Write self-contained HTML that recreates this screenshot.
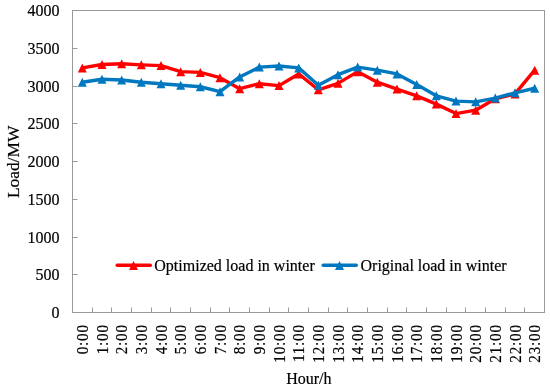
<!DOCTYPE html>
<html><head><meta charset="utf-8"><title>Load chart</title>
<style>html,body{margin:0;padding:0;background:#fff;width:550px;height:390px;overflow:hidden}svg{display:block}</style>
</head><body>
<svg width="550" height="390" viewBox="0 0 550 390" font-family="'Liberation Serif', 'Times New Roman', serif" font-size="16" fill="#000"><style>text{stroke:#000;stroke-width:0.2px}</style><rect x="72.5" y="10.5" width="472.0" height="302.0" fill="none" stroke="#999999" stroke-width="1"/>
<line x1="72.5" y1="274.5" x2="77.5" y2="274.5" stroke="#999999" stroke-width="1"/>
<line x1="72.5" y1="237.5" x2="77.5" y2="237.5" stroke="#999999" stroke-width="1"/>
<line x1="72.5" y1="199.5" x2="77.5" y2="199.5" stroke="#999999" stroke-width="1"/>
<line x1="72.5" y1="161.5" x2="77.5" y2="161.5" stroke="#999999" stroke-width="1"/>
<line x1="72.5" y1="123.5" x2="77.5" y2="123.5" stroke="#999999" stroke-width="1"/>
<line x1="72.5" y1="86.5" x2="77.5" y2="86.5" stroke="#999999" stroke-width="1"/>
<line x1="72.5" y1="48.5" x2="77.5" y2="48.5" stroke="#999999" stroke-width="1"/>
<line x1="92.5" y1="312.5" x2="92.5" y2="307.5" stroke="#999999" stroke-width="1"/>
<line x1="111.5" y1="312.5" x2="111.5" y2="307.5" stroke="#999999" stroke-width="1"/>
<line x1="131.5" y1="312.5" x2="131.5" y2="307.5" stroke="#999999" stroke-width="1"/>
<line x1="151.5" y1="312.5" x2="151.5" y2="307.5" stroke="#999999" stroke-width="1"/>
<line x1="170.5" y1="312.5" x2="170.5" y2="307.5" stroke="#999999" stroke-width="1"/>
<line x1="190.5" y1="312.5" x2="190.5" y2="307.5" stroke="#999999" stroke-width="1"/>
<line x1="210.5" y1="312.5" x2="210.5" y2="307.5" stroke="#999999" stroke-width="1"/>
<line x1="229.5" y1="312.5" x2="229.5" y2="307.5" stroke="#999999" stroke-width="1"/>
<line x1="249.5" y1="312.5" x2="249.5" y2="307.5" stroke="#999999" stroke-width="1"/>
<line x1="269.5" y1="312.5" x2="269.5" y2="307.5" stroke="#999999" stroke-width="1"/>
<line x1="288.5" y1="312.5" x2="288.5" y2="307.5" stroke="#999999" stroke-width="1"/>
<line x1="308.5" y1="312.5" x2="308.5" y2="307.5" stroke="#999999" stroke-width="1"/>
<line x1="328.5" y1="312.5" x2="328.5" y2="307.5" stroke="#999999" stroke-width="1"/>
<line x1="347.5" y1="312.5" x2="347.5" y2="307.5" stroke="#999999" stroke-width="1"/>
<line x1="367.5" y1="312.5" x2="367.5" y2="307.5" stroke="#999999" stroke-width="1"/>
<line x1="387.5" y1="312.5" x2="387.5" y2="307.5" stroke="#999999" stroke-width="1"/>
<line x1="406.5" y1="312.5" x2="406.5" y2="307.5" stroke="#999999" stroke-width="1"/>
<line x1="426.5" y1="312.5" x2="426.5" y2="307.5" stroke="#999999" stroke-width="1"/>
<line x1="446.5" y1="312.5" x2="446.5" y2="307.5" stroke="#999999" stroke-width="1"/>
<line x1="465.5" y1="312.5" x2="465.5" y2="307.5" stroke="#999999" stroke-width="1"/>
<line x1="485.5" y1="312.5" x2="485.5" y2="307.5" stroke="#999999" stroke-width="1"/>
<line x1="505.5" y1="312.5" x2="505.5" y2="307.5" stroke="#999999" stroke-width="1"/>
<line x1="524.5" y1="312.5" x2="524.5" y2="307.5" stroke="#999999" stroke-width="1"/>
<text x="59.5" y="318.00" text-anchor="end">0</text>
<text x="59.5" y="280.25" text-anchor="end">500</text>
<text x="59.5" y="242.50" text-anchor="end">1000</text>
<text x="59.5" y="204.75" text-anchor="end">1500</text>
<text x="59.5" y="167.00" text-anchor="end">2000</text>
<text x="59.5" y="129.25" text-anchor="end">2500</text>
<text x="59.5" y="91.50" text-anchor="end">3000</text>
<text x="59.5" y="53.75" text-anchor="end">3500</text>
<text x="59.5" y="16.00" text-anchor="end">4000</text>
<text transform="translate(87.93,324.2) rotate(-90) scale(0.9,1)" text-anchor="end" font-size="16.8" letter-spacing="0.9">0:00</text>
<text transform="translate(107.60,324.2) rotate(-90) scale(0.9,1)" text-anchor="end" font-size="16.8" letter-spacing="0.9">1:00</text>
<text transform="translate(127.27,324.2) rotate(-90) scale(0.9,1)" text-anchor="end" font-size="16.8" letter-spacing="0.9">2:00</text>
<text transform="translate(146.93,324.2) rotate(-90) scale(0.9,1)" text-anchor="end" font-size="16.8" letter-spacing="0.9">3:00</text>
<text transform="translate(166.60,324.2) rotate(-90) scale(0.9,1)" text-anchor="end" font-size="16.8" letter-spacing="0.9">4:00</text>
<text transform="translate(186.27,324.2) rotate(-90) scale(0.9,1)" text-anchor="end" font-size="16.8" letter-spacing="0.9">5:00</text>
<text transform="translate(205.93,324.2) rotate(-90) scale(0.9,1)" text-anchor="end" font-size="16.8" letter-spacing="0.9">6:00</text>
<text transform="translate(225.60,324.2) rotate(-90) scale(0.9,1)" text-anchor="end" font-size="16.8" letter-spacing="0.9">7:00</text>
<text transform="translate(245.27,324.2) rotate(-90) scale(0.9,1)" text-anchor="end" font-size="16.8" letter-spacing="0.9">8:00</text>
<text transform="translate(264.93,324.2) rotate(-90) scale(0.9,1)" text-anchor="end" font-size="16.8" letter-spacing="0.9">9:00</text>
<text transform="translate(284.60,324.2) rotate(-90) scale(0.9,1)" text-anchor="end" font-size="16.8" letter-spacing="0.9">10:00</text>
<text transform="translate(304.27,324.2) rotate(-90) scale(0.9,1)" text-anchor="end" font-size="16.8" letter-spacing="0.9">11:00</text>
<text transform="translate(323.93,324.2) rotate(-90) scale(0.9,1)" text-anchor="end" font-size="16.8" letter-spacing="0.9">12:00</text>
<text transform="translate(343.60,324.2) rotate(-90) scale(0.9,1)" text-anchor="end" font-size="16.8" letter-spacing="0.9">13:00</text>
<text transform="translate(363.27,324.2) rotate(-90) scale(0.9,1)" text-anchor="end" font-size="16.8" letter-spacing="0.9">14:00</text>
<text transform="translate(382.93,324.2) rotate(-90) scale(0.9,1)" text-anchor="end" font-size="16.8" letter-spacing="0.9">15:00</text>
<text transform="translate(402.60,324.2) rotate(-90) scale(0.9,1)" text-anchor="end" font-size="16.8" letter-spacing="0.9">16:00</text>
<text transform="translate(422.27,324.2) rotate(-90) scale(0.9,1)" text-anchor="end" font-size="16.8" letter-spacing="0.9">17:00</text>
<text transform="translate(441.93,324.2) rotate(-90) scale(0.9,1)" text-anchor="end" font-size="16.8" letter-spacing="0.9">18:00</text>
<text transform="translate(461.60,324.2) rotate(-90) scale(0.9,1)" text-anchor="end" font-size="16.8" letter-spacing="0.9">19:00</text>
<text transform="translate(481.27,324.2) rotate(-90) scale(0.9,1)" text-anchor="end" font-size="16.8" letter-spacing="0.9">20:00</text>
<text transform="translate(500.93,324.2) rotate(-90) scale(0.9,1)" text-anchor="end" font-size="16.8" letter-spacing="0.9">21:00</text>
<text transform="translate(520.60,324.2) rotate(-90) scale(0.9,1)" text-anchor="end" font-size="16.8" letter-spacing="0.9">22:00</text>
<text transform="translate(540.27,324.2) rotate(-90) scale(0.9,1)" text-anchor="end" font-size="16.8" letter-spacing="0.9">23:00</text>
<polyline points="82.33,67.88 102.00,64.48 121.67,63.73 141.33,64.86 161.00,65.62 180.67,71.66 200.33,72.41 220.00,77.69 239.67,88.64 259.33,83.74 279.00,85.62 298.67,73.92 318.33,89.78 338.00,83.36 357.67,71.66 377.33,82.22 397.00,89.02 416.67,95.81 436.33,104.12 456.00,113.56 475.67,110.16 495.33,98.84 515.00,93.93 534.67,70.15" fill="none" stroke="#ff0000" stroke-width="3.4" stroke-linejoin="round" stroke-linecap="round"/><path d="M82.33 63.38L86.83 72.38L77.83 72.38Z" fill="#ff0000"/><path d="M102.00 59.98L106.50 68.98L97.50 68.98Z" fill="#ff0000"/><path d="M121.67 59.23L126.17 68.23L117.17 68.23Z" fill="#ff0000"/><path d="M141.33 60.36L145.83 69.36L136.83 69.36Z" fill="#ff0000"/><path d="M161.00 61.12L165.50 70.12L156.50 70.12Z" fill="#ff0000"/><path d="M180.67 67.16L185.17 76.16L176.17 76.16Z" fill="#ff0000"/><path d="M200.33 67.91L204.83 76.91L195.83 76.91Z" fill="#ff0000"/><path d="M220.00 73.19L224.50 82.19L215.50 82.19Z" fill="#ff0000"/><path d="M239.67 84.14L244.17 93.14L235.17 93.14Z" fill="#ff0000"/><path d="M259.33 79.24L263.83 88.24L254.83 88.24Z" fill="#ff0000"/><path d="M279.00 81.12L283.50 90.12L274.50 90.12Z" fill="#ff0000"/><path d="M298.67 69.42L303.17 78.42L294.17 78.42Z" fill="#ff0000"/><path d="M318.33 85.28L322.83 94.28L313.83 94.28Z" fill="#ff0000"/><path d="M338.00 78.86L342.50 87.86L333.50 87.86Z" fill="#ff0000"/><path d="M357.67 67.16L362.17 76.16L353.17 76.16Z" fill="#ff0000"/><path d="M377.33 77.72L381.83 86.72L372.83 86.72Z" fill="#ff0000"/><path d="M397.00 84.52L401.50 93.52L392.50 93.52Z" fill="#ff0000"/><path d="M416.67 91.31L421.17 100.31L412.17 100.31Z" fill="#ff0000"/><path d="M436.33 99.62L440.83 108.62L431.83 108.62Z" fill="#ff0000"/><path d="M456.00 109.06L460.50 118.06L451.50 118.06Z" fill="#ff0000"/><path d="M475.67 105.66L480.17 114.66L471.17 114.66Z" fill="#ff0000"/><path d="M495.33 94.34L499.83 103.34L490.83 103.34Z" fill="#ff0000"/><path d="M515.00 89.43L519.50 98.43L510.50 98.43Z" fill="#ff0000"/><path d="M534.67 65.65L539.17 74.65L530.17 74.65Z" fill="#ff0000"/>
<polyline points="82.33,82.22 102.00,79.21 121.67,79.96 141.33,82.22 161.00,83.74 180.67,85.25 200.33,86.75 220.00,91.66 239.67,76.94 259.33,67.12 279.00,65.99 298.67,67.88 318.33,85.25 338.00,74.68 357.67,67.12 377.33,70.15 397.00,73.92 416.67,84.49 436.33,95.81 456.00,101.10 475.67,101.85 495.33,98.08 515.00,92.79 534.67,88.26" fill="none" stroke="#0078c0" stroke-width="3.4" stroke-linejoin="round" stroke-linecap="round"/><path d="M82.33 77.72L86.83 86.72L77.83 86.72Z" fill="#0078c0"/><path d="M102.00 74.71L106.50 83.71L97.50 83.71Z" fill="#0078c0"/><path d="M121.67 75.46L126.17 84.46L117.17 84.46Z" fill="#0078c0"/><path d="M141.33 77.72L145.83 86.72L136.83 86.72Z" fill="#0078c0"/><path d="M161.00 79.24L165.50 88.24L156.50 88.24Z" fill="#0078c0"/><path d="M180.67 80.75L185.17 89.75L176.17 89.75Z" fill="#0078c0"/><path d="M200.33 82.25L204.83 91.25L195.83 91.25Z" fill="#0078c0"/><path d="M220.00 87.16L224.50 96.16L215.50 96.16Z" fill="#0078c0"/><path d="M239.67 72.44L244.17 81.44L235.17 81.44Z" fill="#0078c0"/><path d="M259.33 62.62L263.83 71.62L254.83 71.62Z" fill="#0078c0"/><path d="M279.00 61.49L283.50 70.49L274.50 70.49Z" fill="#0078c0"/><path d="M298.67 63.38L303.17 72.38L294.17 72.38Z" fill="#0078c0"/><path d="M318.33 80.75L322.83 89.75L313.83 89.75Z" fill="#0078c0"/><path d="M338.00 70.18L342.50 79.18L333.50 79.18Z" fill="#0078c0"/><path d="M357.67 62.62L362.17 71.62L353.17 71.62Z" fill="#0078c0"/><path d="M377.33 65.65L381.83 74.65L372.83 74.65Z" fill="#0078c0"/><path d="M397.00 69.42L401.50 78.42L392.50 78.42Z" fill="#0078c0"/><path d="M416.67 79.99L421.17 88.99L412.17 88.99Z" fill="#0078c0"/><path d="M436.33 91.31L440.83 100.31L431.83 100.31Z" fill="#0078c0"/><path d="M456.00 96.60L460.50 105.60L451.50 105.60Z" fill="#0078c0"/><path d="M475.67 97.35L480.17 106.35L471.17 106.35Z" fill="#0078c0"/><path d="M495.33 93.58L499.83 102.58L490.83 102.58Z" fill="#0078c0"/><path d="M515.00 88.29L519.50 97.29L510.50 97.29Z" fill="#0078c0"/><path d="M534.67 83.76L539.17 92.76L530.17 92.76Z" fill="#0078c0"/>
<line x1="117.2" y1="265.3" x2="150.3" y2="265.3" stroke="#ff0000" stroke-width="3.4" stroke-linecap="round"/>
<path d="M133.50 261.00L138.00 270.00L129.00 270.00Z" fill="#ff0000"/>
<text x="154.3" y="270.5">Optimized load in winter</text>
<line x1="323.2" y1="265.3" x2="356.3" y2="265.3" stroke="#0078c0" stroke-width="3.4" stroke-linecap="round"/>
<path d="M339.50 261.00L344.00 270.00L335.00 270.00Z" fill="#0078c0"/>
<text x="360.5" y="270.5">Original load in winter</text>
<text transform="translate(18.6,161.9) rotate(-90)" text-anchor="middle" font-size="17.4">Load/MW</text>
<text x="308.8" y="383.5" text-anchor="middle">Hour/h</text></svg>
</body></html>
